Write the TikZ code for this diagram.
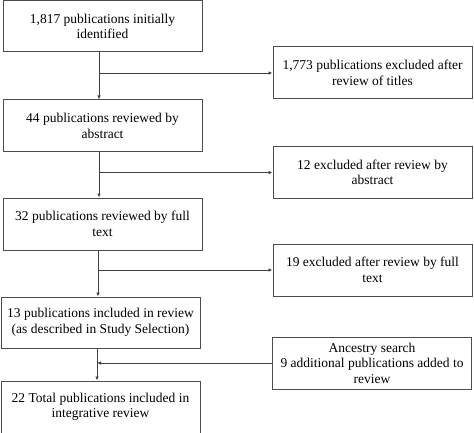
\documentclass[tikz,border=0pt]{standalone}
\usepackage{fontspec}
\setmainfont{Liberation Serif}
\usetikzlibrary{arrows.meta}
\begin{document}
\begin{tikzpicture}[x=1pt,y=-1pt,
  txt/.style={align=center, font=\fontsize{13.5}{15.5}\selectfont, text=black},
  box/.style={txt, draw=black!70, line width=1pt, inner sep=0pt},
  conn/.style={draw=black!75, line width=0.8pt},
  arr/.style={conn, -{Latex[length=4pt,width=3.5pt]}}]
\useasboundingbox (0,0) rectangle (474,433);
\clip (0,0) rectangle (474,433);
\node[box, minimum width=199pt, minimum height=51pt] (b1) at (102.5,26.5) {1,817 publications initially\\identified};
\node[box, minimum width=199pt, minimum height=52pt] (b2) at (102.5,126) {44 publications reviewed by\\abstract};
\node[box, minimum width=199pt, minimum height=52pt] (b3) at (102.5,224) {32 publications reviewed by full\\text};
\node[box, minimum width=199pt, minimum height=51pt] (b4) at (100.5,322.5) {13 publications included in review\\(as described in Study Selection)};
\node[box, minimum width=199pt, minimum height=64pt] (b5) at (100.5,413) {};
\node[txt] (t5) at (100.5,407) {22 Total publications included in\\integrative review};
\node[box, minimum width=199pt, minimum height=52pt] (r1) at (372.5,73) {1,773 publications excluded after\\review of titles};
\node[box, minimum width=199pt, minimum height=51pt] (r2) at (372.5,172.5) {12 excluded after review by\\abstract};
\node[box, minimum width=199pt, minimum height=52pt] (r3) at (372.5,270) {19 excluded after review by full\\text};
\node[box, minimum width=199pt, minimum height=52pt] (r4) at (372,363) {Ancestry search\\9 additional publications added to\\review};
\coordinate (c1) at (99,0);
\coordinate (c3) at (98,0);
\coordinate (c4) at (97,0);
\coordinate (j1) at (c1 |- r1.west);
\coordinate (j2) at (c1 |- r2.west);
\coordinate (j3) at (c3 |- r3.west);
\coordinate (j4) at (c4 |- r4.west);
\draw[arr] (b1.south -| c1) -- (b2.north -| c1);
\draw[arr] (j1) -- (r1.west);
\draw[arr] (b2.south -| c1) -- (b3.north -| c1);
\draw[arr] (j2) -- (r2.west);
\draw[arr] (b3.south -| c3) -- (b4.north -| c3);
\draw[arr] (j3) -- (r3.west);
\draw[arr] (b4.south -| c4) -- (b5.north -| c4);
\draw[arr] (r4.west) -- (j4);
\end{tikzpicture}
\end{document}
